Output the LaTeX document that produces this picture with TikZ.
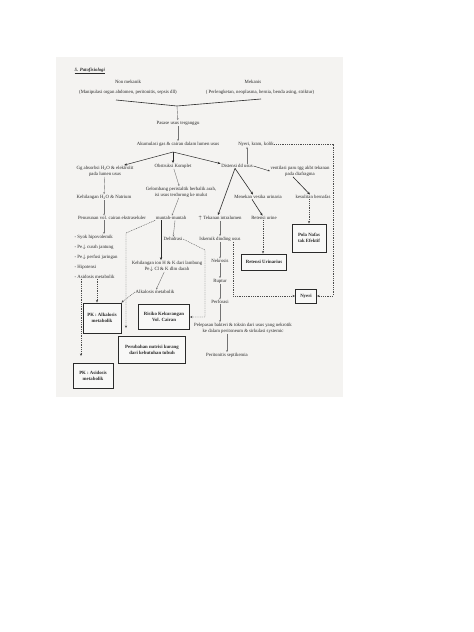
\documentclass[tikz,border=0pt]{standalone}
\usepackage{fontspec}
\setmainfont{Liberation Serif}
\usetikzlibrary{arrows.meta}
\definecolor{panel}{HTML}{F4F3F1}
\definecolor{ink}{HTML}{2A2A2A}

\begin{document}
\begin{tikzpicture}[x=1pt,y=-1pt,
    every node/.style={font=\fontsize{4.8}{6}\selectfont, text=ink, inner sep=0.5pt, align=center},
    box/.style={draw=ink, line width=0.9pt, fill=white!40!panel, font=\fontsize{4.8}{6.5}\selectfont\bfseries, inner sep=1.5pt},
    arr/.style={draw=black!55, -{Stealth[length=2pt,width=1.6pt]}},
    thk/.style={draw=ink, line width=0.6pt, -{Stealth[length=3pt,width=2.4pt]}},
    dsh/.style={draw=black!70, dash pattern=on 1pt off 0.8pt, -{Stealth[length=2.6pt,width=2.2pt]}}]
    % Draw the page and the scanned panel
    \useasboundingbox (0,0) rectangle (474,632);
    \fill[white] (0,0) rectangle (474,632);
    \fill[panel] (56,57) rectangle (343,397);

    % Title and causes
    \node[anchor=west] (judul) at (74,71) {\underline{\textbf{\textit{5. Patofisiologi}}}};
    \node (nonmek) at (128,82) {Non mekanik};
    \node (nonmekket) at (128,92) {(Manipulasi organ abdomen, peritonitis, sepsis dll)};
    \node (mek) at (253,82) {Mekanis};
    \node (mekket) at (260,92) {( Perlengketan, neoplasma, hernia, benda asing, striktur)};
    \coordinate (funl) at (116,100);
    \coordinate (funr) at (261,99);
    \coordinate (funm) at (177,106);
    \draw[ink, line width=0.6pt] (funl) -- (funm) -- (funr);

    % Main chain
    \node (pasase) at (178,123) {Pasase usus terganggu};
    \node (akum) at (178,144) {Akumulasi gas \& cairan dalam lumen usus};
    \node (nyeri) at (256,144) {Nyeri, kram, kolik};
    \coordinate (cabang) at (173,152);

    % Second row
    \node (absorb) at (105,171) {Gg absorbsi H\textsubscript{2}O \& elektrolit\\pada lumen usus};
    \node (obstruksi) at (173,166) {Obstruksi Komplet};
    \node (distensi) at (237,166) {Distensi dd usus};
    \node (ventilasi) at (300,171) {ventilasi paru tgg akbt tekanan\\pada diafragma};

    % Third row
    \node (kehilangan) at (104,197) {Kehilangan H\textsubscript{2}O \& Natrium};
    \node (gelombang) at (181,192) {Gelombang peristaltik berbalik arah,\\isi usus terdorong ke mulut};
    \node (menekan) at (258,197) {Menekan vesika urinaria};
    \node (kesulitan) at (313,197) {kesulitan bernafas};

    % Fourth row
    \node (penurunan) at (112,218) {Penurunan vol. cairan ekstraseluler};
    \node (muntah) at (171,218) {muntah-muntah};
    \node (tekanan) at (220,218) {$\uparrow$ Tekanan intralumen};
    \node (retensi) at (264,218) {Retensi urine};
    \node[box, minimum width=34pt, minimum height=28pt] (polanafas) at (309,238) {Pola Nafas\\tak Efektif};

    % Symptoms list
    \node[anchor=north west, align=left, font=\fontsize{4.8}{10}\selectfont] (gejala) at (74,234)
        {- Syok hipovolemik\\- Pe$\downarrow$ curah jantung\\- Pe$\downarrow$ perfusi jaringan\\- Hipotensi\\- Asidosis metabolik};

    % Lower middle
    \node (dehidrasi) at (173,239) {Dehidrasi};
    \node (iskemik) at (220,239) {Iskemik dinding usus};
    \node[box, minimum width=45pt, minimum height=16pt] (retensibox) at (264,262) {Retensi Urinarius};
    \node (ion) at (167,266) {Kehilangan ion H \& K dari lambung\\Pe$\downarrow$ Cl \& K dlm darah};
    \node (nekrosis) at (220,261) {Nekrosis};
    \node[box, minimum width=21pt, minimum height=14pt] (nyeribox) at (306,296) {Nyeri};
    \node (ruptur) at (220,281) {Ruptur};
    \node (alkalosis) at (155,292) {Alkalosis metabolik};
    \node (perforasi) at (220,302) {Perforasi};

    % Bottom boxes
    \node[box, minimum width=38pt, minimum height=30pt] (pkalkalosis) at (102,318) {PK : Alkalosis\\metabolik};
    \node[box, minimum width=51pt, minimum height=25pt] (risiko) at (164,317) {Risiko Kekurangan\\Vol. Cairan};
    \node (pelepasan) at (243,328) {Pelepasan bakteri \& toksin dari usus yang nekrotik\\ke dalam peritoneum \& sirkulasi systemic};
    \node[box, minimum width=67pt, minimum height=27pt] (perubahan) at (152,350) {Perubahan nutrisi kurang\\dari kebutuhan tubuh};
    \node (peritonitis) at (227,355) {Peritonitis septikemia};
    \node[box, minimum width=40pt, minimum height=25pt] (pkasidosis) at (93,376) {PK : Asidosis\\metabolik};

    % Solid arrows
    \draw[arr] (funm) -- (pasase);
    \draw[arr] (pasase) -- (akum);
    \draw[thk, line width=0.5pt] (cabang) -- ([xshift=-10pt]absorb.north east);
    \draw[thk, line width=0.5pt] (cabang) -- (obstruksi.north);
    \draw[thk, line width=0.5pt] (cabang) -- (distensi.north west);
    \draw[arr] ([xshift=10pt]distensi.north) -- ([xshift=-9pt]nyeri.south);
    \draw[arr, draw=ink] (distensi.east) -- (ventilasi.west);
    \draw[arr] (absorb) -- (kehilangan);
    \draw[arr] (obstruksi) -- (gelombang);
    \draw[thk] ([xshift=-2pt]distensi.south) -- ([xshift=-2pt]tekanan.north);
    \draw[thk] ([xshift=-2pt]distensi.south) -- ([xshift=-5pt]menekan.north);
    \draw[thk] ([xshift=-7pt]ventilasi.south) -- ([xshift=-3pt]kesulitan.north);
    \draw[arr] (kehilangan) -- (penurunan.north -| kehilangan);
    \draw[arr] (gelombang) -- (muntah);
    \draw[thk] ([xshift=-6pt]menekan.south) -- (retensi);
    \draw[arr] ([xshift=-8pt]penurunan.south) -- ([xshift=30pt]gejala.north west);
    \draw[arr] ([xshift=4pt]muntah.south) -- (dehidrasi);
    \draw[thk] ([xshift=-10pt]muntah.south) -- ([xshift=-6pt]ion.north);
    \draw[arr] (ion) -- (alkalosis);
    \draw[arr] (tekanan) -- (iskemik);
    \draw[arr] (iskemik) -- (nekrosis);
    \draw[arr] (nekrosis) -- (ruptur);
    \draw[arr] (ruptur) -- (perforasi);
    \draw[arr] (perforasi) -- (perforasi |- pelepasan.north);
    \draw[arr] (peritonitis |- pelepasan.south) -- (peritonitis);

    % Dashed arrows
    \coordinate (nyerikanan) at (333,144);
    \draw[dsh] (nyeri.east) -- (nyerikanan) |- (nyeribox.east);
    \draw[dsh] (kesulitan.south -| polanafas) -- (polanafas.north);
    \draw[dsh] ([xshift=-1pt]retensi.south) -- ([xshift=-1pt]retensibox.north);
    \draw[dsh] ([xshift=-8pt]iskemik.south east) |- (nyeribox.west);
    \draw[dsh] (alkalosis.west) -- (pkalkalosis.north east);
    \draw[dsh, shorten >=7pt] ([xshift=-12pt]pkasidosis.north |- gejala.south) -- ([xshift=-12pt]pkasidosis.north);
    \draw[dsh] ([xshift=-5pt]pkalkalosis.north |- gejala.south) -- ([xshift=-5pt]pkalkalosis.north);
    \coordinate (muntahkiri) at (126,233);
    \draw[dsh, shorten >=8pt] (muntah.south west) -- (muntahkiri) -- (muntahkiri |- perubahan.north);
    \coordinate (dehidrasikanan) at (205,250);
    \draw[dsh] (dehidrasi.east) -- (dehidrasikanan) |- (risiko.east);

\end{tikzpicture}
\end{document}
